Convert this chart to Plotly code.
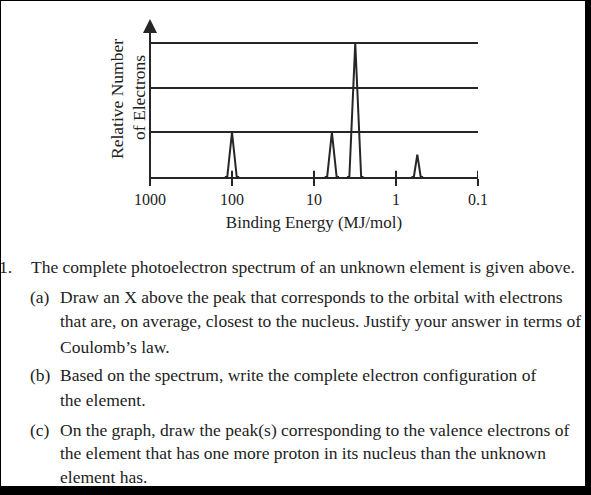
import plotly.graph_objects as go

# ---------------- data ----------------
peak_energies = [100, 6.05, 3.14, 0.55]       # MJ/mol
peak_heights = [1, 1, 3, 0.5]                 # relative number of electrons
tick_values = [1000, 100, 10, 1, 0.1]
tick_labels = ["1000", "100", "10", "1", "0.1"]
grid_levels = [1, 2, 3]

question_lines = [
    "1.",
    "The complete photoelectron spectrum of an unknown element is given above.",
    "(a)",
    "Draw an X above the peak that corresponds to the orbital with electrons",
    "that are, on average, closest to the nucleus. Justify your answer in terms of",
    "Coulomb\u2019s law.",
    "(b)",
    "Based on the spectrum, write the complete electron configuration of",
    "the element.",
    "(c)",
    "On the graph, draw the peak(s) corresponding to the valence electrons of",
    "the element that has one more proton in its nucleus than the unknown",
    "element has.",
]

# ---------------- styles / layout ----------------
W, H = 591, 495
ML, MR, MT, MB = 150, 113, 20, 318
PW, PH = W - ML - MR, H - MT - MB
UNIT_PX = 44.7
YMAX = PH / UNIT_PX
INK = "#262626"
TXT = "#222222"
SERIF = "Liberation Serif, Times New Roman, serif"
peak_half_width = [0.058, 0.058, 0.072, 0.042]   # decades (style)
foot_factor = 1.07                                # short flat foot at base (style)

def px(x):
    return (x - ML) / PW

def py(y):
    return (H - MB - y) / PH

fig = go.Figure()

# peaks (triangles on log axis)
for e, h, hw in zip(peak_energies, peak_heights, peak_half_width):
    f = 10 ** hw
    xs = [e * f * foot_factor, e * f, e, e / f, e / (f * foot_factor)]
    ys = [0, 0, h, 0, 0]
    fig.add_trace(go.Scatter(x=xs, y=ys, mode="lines",
                             line=dict(color=INK, width=2),
                             hoverinfo="skip", showlegend=False, cliponaxis=False))

# crossing tick marks (upper half; lower half from axis ticks)
tx, ty = [], []
for v in tick_values:
    tx += [v, v, None]
    ty += [0, 0.14, None]
fig.add_trace(go.Scatter(x=tx, y=ty, mode="lines", line=dict(color=INK, width=2),
                         hoverinfo="skip", showlegend=False, cliponaxis=False))

fig.update_xaxes(type="log", range=[3, -1], tickvals=tick_values, ticktext=tick_labels,
                 showgrid=False, zeroline=False, showline=True, linecolor=INK, linewidth=2,
                 ticks="outside", ticklen=7, tickwidth=2, tickcolor=INK,
                 tickfont=dict(family=SERIF, size=16, color=TXT),
                 title=dict(text="Binding Energy (MJ/mol)", standoff=9,
                            font=dict(family=SERIF, size=17, color=TXT)))
fig.update_yaxes(range=[0, YMAX], tickvals=grid_levels, showticklabels=False,
                 showgrid=True, gridcolor=INK, gridwidth=2, zeroline=False,
                 showline=False, ticks="")

annotations = []
# y axis arrow
annotations.append(dict(x=0, y=py(19), xref="paper", yref="paper", ax=0, ay=185 - 19,
                        showarrow=True, arrowhead=2, arrowsize=1.4, arrowwidth=2,
                        arrowcolor=INK, text=""))
# y axis title (two lines)
annotations.append(dict(x=px(117), y=py(99), xref="paper", yref="paper", text="Relative Number",
                        textangle=-90, showarrow=False, xanchor="center", yanchor="middle",
                        font=dict(family=SERIF, size=17.5, color=TXT)))
annotations.append(dict(x=px(139), y=py(98), xref="paper", yref="paper", text="of Electrons",
                        textangle=-90, showarrow=False, xanchor="center", yanchor="middle",
                        font=dict(family=SERIF, size=17.5, color=TXT)))

# question text
positions = [(14, 266.5, "right"), (29, 266.5, "left"),
             (28, 296.5, "left"), (58, 296.5, "left"),
             (58, 320.5, "left"), (58, 346.5, "left"),
             (28, 375, "left"), (58, 375, "left"), (58, 400, "left"),
             (28, 430, "left"), (58, 430, "left"), (58, 453, "left"), (58, 477, "left")]
for txt, (x, y, anc) in zip(question_lines, positions):
    annotations.append(dict(x=px(x), y=py(y), xref="paper", yref="paper", text=txt,
                            showarrow=False, xanchor=anc, yanchor="middle",
                            font=dict(family=SERIF, size=17.5, color=TXT)))

shapes = [
    # right and bottom black frame
    dict(type="rect", xref="paper", yref="paper", x0=px(585), x1=px(W + 2), y0=py(H + 2), y1=py(-2),
         fillcolor="black", line=dict(width=0), layer="above"),
    dict(type="rect", xref="paper", yref="paper", x0=px(-2), x1=px(W + 2), y0=py(H + 2), y1=py(486),
         fillcolor="black", line=dict(width=0), layer="above"),
    # thin top and left frame
    dict(type="rect", xref="paper", yref="paper", x0=px(-2), x1=px(W + 2), y0=py(1), y1=py(-2),
         fillcolor="black", line=dict(width=0), layer="above"),
    dict(type="rect", xref="paper", yref="paper", x0=px(-2), x1=px(1), y0=py(H + 2), y1=py(-2),
         fillcolor="black", line=dict(width=0), layer="above"),
]

fig.update_layout(width=W, height=H, margin=dict(l=ML, r=MR, t=MT, b=MB),
                  paper_bgcolor="white", plot_bgcolor="white",
                  annotations=annotations, shapes=shapes, showlegend=False)

fig.write_html("out.html", config={"displayModeBar": False},
               post_script="document.body.style.margin='0';document.body.style.overflow='hidden';")
